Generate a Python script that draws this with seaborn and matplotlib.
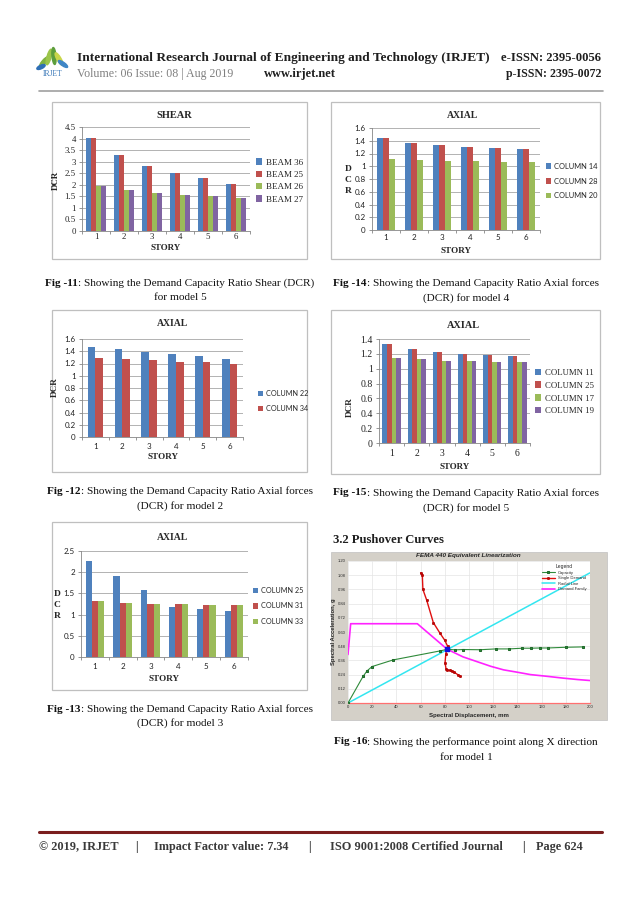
import numpy as np
import pandas as pd
import seaborn as sns
import matplotlib.pyplot as plt
from matplotlib.patches import Rectangle, Ellipse

W, H = 638, 902
SERIF = ['Liberation Serif', 'DejaVu Serif']
SANS = ['Lato', 'DejaVu Sans']
ARIAL = ['Liberation Sans', 'DejaVu Sans']

stories = [1, 2, 3, 4, 5, 6]
excel_colors = ['#4f81bd', '#c0504d', '#9bbb59', '#8064a2']

# Fig -11 shear, model 5
beam36 = [4.02, 3.30, 2.81, 2.49, 2.28, 2.04]
beam25 = [4.02, 3.30, 2.81, 2.49, 2.28, 2.04]
beam26 = [1.95, 1.78, 1.65, 1.57, 1.50, 1.43]
beam27 = [1.95, 1.78, 1.65, 1.57, 1.50, 1.43]
shear_labels = ['BEAM 36', 'BEAM 25', 'BEAM 26', 'BEAM 27']

# Fig -14 axial, model 4
col14_m4 = [1.44, 1.37, 1.33, 1.30, 1.28, 1.27]
col28_m4 = [1.44, 1.37, 1.33, 1.30, 1.28, 1.27]
col20_m4 = [1.11, 1.10, 1.09, 1.08, 1.07, 1.06]
m4_labels = ['COLUMN 14', 'COLUMN 28', 'COLUMN 20']

# Fig -12 axial, model 2
col22_m2 = [1.47, 1.43, 1.39, 1.36, 1.33, 1.28]
col34_m2 = [1.29, 1.27, 1.25, 1.23, 1.22, 1.20]
m2_labels = ['COLUMN 22', 'COLUMN 34']

# Fig -15 axial, model 5
col11_m5 = [1.33, 1.27, 1.23, 1.20, 1.18, 1.17]
col25_m5 = [1.33, 1.27, 1.23, 1.20, 1.18, 1.17]
col17_m5 = [1.15, 1.13, 1.11, 1.10, 1.09, 1.09]
col19_m5 = [1.15, 1.13, 1.11, 1.10, 1.09, 1.09]
m5_labels = ['COLUMN 11', 'COLUMN 25', 'COLUMN 17', 'COLUMN 19']

# Fig -13 axial, model 3
col25_m3 = [2.27, 1.92, 1.58, 1.19, 1.14, 1.09]
col31_m3 = [1.31, 1.28, 1.25, 1.24, 1.23, 1.23]
col33_m3 = [1.31, 1.28, 1.25, 1.24, 1.23, 1.23]
m3_labels = ['COLUMN 25', 'COLUMN 31', 'COLUMN 33']

# Fig -16 pushover (FEMA 440)
cap_sd = [0, 12.4, 15.8, 19.9, 37.3, 76, 82, 88.5, 95, 109, 122, 133, 144, 151, 159, 165, 180, 194]
cap_sa = [0, 0.224, 0.272, 0.308, 0.364, 0.44, 0.454, 0.449, 0.452, 0.45, 0.457, 0.457,
          0.463, 0.463, 0.465, 0.465, 0.471, 0.474]
dem_sd = [60, 61.4, 61.9, 65, 70.5, 76, 80, 82.3, 81.5, 80.8, 80.2, 81, 82, 84.4, 86, 88, 90.7, 92.7]
dem_sa = [1.10, 1.085, 0.96, 0.87, 0.68, 0.59, 0.53, 0.48, 0.45, 0.41, 0.34, 0.29, 0.28,
          0.275, 0.27, 0.258, 0.24, 0.224]
radial_sd = [0, 200]
radial_sa = [0, 1.10]
family_sd = [0, 2.2, 57.3, 82, 95, 106.5, 118, 128.6, 140, 150.8, 165, 178, 190, 200]
family_sa = [0.41, 0.67, 0.67, 0.454, 0.39, 0.35, 0.31, 0.28, 0.26, 0.24, 0.225, 0.21, 0.198, 0.19]
perf_sd = [82]
perf_sa = [0.454]
push_xticks = [0, 20, 40, 60, 80, 100, 120, 140, 160, 180, 200]
push_yticks = [0.0, 0.12, 0.24, 0.36, 0.48, 0.60, 0.72, 0.84, 0.96, 1.08, 1.20]

sns.set_theme(style='white')
plt.rcParams['font.family'] = SERIF

fig = plt.figure(figsize=(W / 100, H / 100), dpi=100)
fig.patch.set_facecolor('white')
renderer = fig.canvas.get_renderer()


def px_rect(x0, y0, x1, y1):
    return [x0 / W, 1 - y1 / H, (x1 - x0) / W, (y1 - y0) / H]


def fig_text(x, y, s, **kw):
    kw.setdefault('va', 'center')
    return fig.text(x / W, 1 - y / H, s, **kw)


def fit_size(s, width, **kw):
    t = fig.text(0, 0, s, fontsize=10, **kw)
    w = t.get_window_extent(renderer).width
    t.remove()
    return 10 * width / w


def panel(x0, y0, x1, y1, fc='white', ec='#bfbfbf', lw=0.9):
    fig.patches.append(Rectangle((x0 / W, 1 - y1 / H), (x1 - x0) / W, (y1 - y0) / H,
                                 transform=fig.transFigure, fc=fc, ec=ec, lw=lw, zorder=-1))


def caption(cx, y, bold, rest, size):
    t1 = fig_text(0, y, bold, fontsize=size, fontweight='bold', color='#111111')
    t2 = fig_text(0, y, rest, fontsize=size, color='#111111')
    w1 = t1.get_window_extent(renderer).width
    w2 = t2.get_window_extent(renderer).width
    x0 = cx - (w1 + w2) / 2
    t1.set_x(x0 / W)
    t2.set_x((x0 + w1) / W)


def dcr_chart(area, labels, series, yticks, width, font, fsize, lsize, legend_at, gap, pad=2):
    ax = fig.add_axes(px_rect(*area))
    ax.patch.set_alpha(0)
    df = pd.DataFrame({
        'STORY': stories * len(labels),
        'DCR': np.concatenate(series),
        'member': np.repeat(labels, len(stories)),
    })
    sns.barplot(data=df, x='STORY', y='DCR', hue='member', hue_order=labels,
                palette=excel_colors[:len(labels)], width=width, saturation=1,
                edgecolor='none', linewidth=0, ax=ax)
    ax.set_xlim(-0.5, 5.5)
    ax.set_ylim(yticks[0], yticks[-1])
    ax.set_yticks(yticks, labels=[f'{v:g}' for v in yticks])
    ax.set_xticks(range(6), labels=[str(s) for s in stories])
    ax.set_xticks(np.arange(-0.5, 6, 1), minor=True)
    for lab in ax.get_xticklabels() + ax.get_yticklabels():
        lab.set_fontfamily(font)
        lab.set_fontsize(fsize)
        lab.set_color('#222222')
    ax.tick_params(axis='x', which='major', length=0, pad=pad)
    ax.tick_params(axis='x', which='minor', length=2.5, width=0.6, color='#868686', bottom=True)
    ax.tick_params(axis='y', length=2.5, width=0.6, color='#868686', pad=2, left=True)
    ax.grid(axis='y', color='#a6a6a6', lw=0.6)
    ax.set_axisbelow(True)
    for s in ['top', 'right']:
        ax.spines[s].set_visible(False)
    for s in ['left', 'bottom']:
        ax.spines[s].set_color('#868686')
        ax.spines[s].set_linewidth(0.6)
    ax.set_xlabel('')
    ax.set_ylabel('')
    handles, _ = ax.get_legend_handles_labels()
    ax.legend(handles, labels, loc='center left',
              bbox_to_anchor=(legend_at[0] / W, 1 - legend_at[1] / H),
              bbox_transform=fig.transFigure, frameon=False,
              prop={'family': font, 'size': lsize}, handlelength=0.7, handleheight=0.7,
              handletextpad=0.4, labelspacing=gap, borderpad=0, borderaxespad=0)
    return ax


# ---------- page header ----------
logo = fig.add_axes(px_rect(36, 44, 70, 72))
logo.set_xlim(36, 70)
logo.set_ylim(72, 44)
logo.axis('off')
for (cx, cy, w, h, ang, c) in [(44, 62, 4, 13, 40, '#7fb241'), (49, 57, 4, 16, 15, '#9cc54a'),
                               (54, 56, 4, 17, -5, '#5d9e3c'), (59, 59, 4, 14, -30, '#c9d64a'),
                               (63, 64, 3.5, 11, -55, '#3f86c6'), (41, 67, 3.5, 9, 65, '#2e6fb5')]:
    logo.add_patch(Ellipse((cx, cy), w, h, angle=ang, color=c))
fig_text(53, 74, 'IRJET', ha='center', fontsize=5.5, color='#3a78b8')

title = 'International Research Journal of Engineering and Technology (IRJET)'
fig_text(77, 58, title, fontsize=fit_size(title, 415, fontweight='bold'), fontweight='bold',
         color='#1f1f1f')
fig_text(601, 58, 'e-ISSN: 2395-0056', ha='right', fontweight='bold', color='#1f1f1f',
         fontsize=fit_size('e-ISSN: 2395-0056', 100, fontweight='bold'))
fig_text(77, 74, 'Volume: 06 Issue: 08 | Aug 2019', color='#7f7f7f',
         fontsize=fit_size('Volume: 06 Issue: 08 | Aug 2019', 155))
fig_text(264, 74, 'www.irjet.net', fontweight='bold', color='#1f1f1f',
         fontsize=fit_size('www.irjet.net', 72, fontweight='bold'))
fig_text(601, 74, 'p-ISSN: 2395-0072', ha='right', fontweight='bold', color='#1f1f1f',
         fontsize=fit_size('p-ISSN: 2395-0072', 95, fontweight='bold'))
fig.add_artist(plt.Line2D([39 / W, 603 / W], [1 - 91 / H] * 2, color='#a0a0a0', lw=1.2))

# ---------- bar charts ----------
cap_size = fit_size('Fig -14: Showing the Demand Capacity Ratio Axial forces', 265)

# Fig -11
panel(52, 102, 307, 259)
dcr_chart((82, 127, 250, 231), shear_labels, [beam36, beam25, beam26, beam27],
          [0, 0.5, 1, 1.5, 2, 2.5, 3, 3.5, 4, 4.5], 0.727, SERIF, 6.3, 6.5, (256, 181), 0.45,
          pad=1.5)
fig_text(174, 115, 'SHEAR', ha='center', fontsize=7.5, fontweight='bold')
fig_text(166, 248.5, 'STORY', ha='center', fontsize=6.4, fontweight='bold')
fig_text(56, 180, 'DCR', ha='center', rotation=90, fontsize=6.4, fontweight='bold')
caption(180, 283, 'Fig -11', ': Showing the Demand Capacity Ratio Shear (DCR)', cap_size)
caption(180, 298, '', 'for model 5', cap_size)

# Fig -14
panel(331, 102, 600, 259)
dcr_chart((372, 128, 540, 230), m4_labels, [col14_m4, col28_m4, col20_m4],
          [0, 0.2, 0.4, 0.6, 0.8, 1, 1.2, 1.4, 1.6], 0.667, SANS, 5.8, 5.4, (546, 181), 1.05,
          pad=3)
fig_text(463, 115, 'AXIAL', ha='center', fontsize=7, fontweight='bold')
fig_text(456, 251, 'STORY', ha='center', fontsize=6.6, fontweight='bold')
fig_text(348, 180, 'D\nC\nR', ha='center', fontsize=6.8, fontweight='bold', linespacing=1.45)
caption(466, 283, 'Fig -14', ': Showing the Demand Capacity Ratio Axial forces', cap_size)
caption(466, 298, '', '(DCR) for model 4', cap_size)

# Fig -12
panel(52, 310, 307, 472)
dcr_chart((82, 339, 243, 437), m2_labels, [col22_m2, col34_m2],
          [0, 0.2, 0.4, 0.6, 0.8, 1, 1.2, 1.4, 1.6], 0.571, SANS, 5.8, 5.2, (258, 401), 1.2,
          pad=4)
fig_text(173, 324, 'AXIAL', ha='center', fontsize=7, fontweight='bold')
fig_text(163, 457, 'STORY', ha='center', fontsize=6.6, fontweight='bold')
fig_text(55, 387, 'DCR', ha='center', rotation=90, fontsize=6.6, fontweight='bold')
caption(180, 491, 'Fig -12', ': Showing the Demand Capacity Ratio Axial forces', cap_size)
caption(180, 506, '', '(DCR) for model 2', cap_size)

# Fig -15
panel(331, 310, 600, 474)
dcr_chart((379, 339, 530, 443), m5_labels, [col11_m5, col25_m5, col17_m5, col19_m5],
          [0, 0.2, 0.4, 0.6, 0.8, 1, 1.2, 1.4], 0.727, SERIF, 7.0, 6.3, (535, 392), 0.55,
          pad=4)
fig_text(463, 325, 'AXIAL', ha='center', fontsize=7.4, fontweight='bold')
fig_text(455, 467, 'STORY', ha='center', fontsize=6.4, fontweight='bold')
fig_text(350, 407, 'DCR', ha='center', rotation=90, fontsize=6.6, fontweight='bold')
caption(466, 493, 'Fig -15', ': Showing the Demand Capacity Ratio Axial forces', cap_size)
caption(466, 508, '', '(DCR) for model 5', cap_size)

# Fig -13
panel(52, 522, 307, 690)
dcr_chart((81, 551, 248, 657), m3_labels, [col25_m3, col31_m3, col33_m3],
          [0, 0.5, 1, 1.5, 2, 2.5], 0.667, SANS, 5.8, 5.2, (253, 606), 1.2, pad=4)
fig_text(173, 537, 'AXIAL', ha='center', fontsize=7, fontweight='bold')
fig_text(164, 679, 'STORY', ha='center', fontsize=6.6, fontweight='bold')
fig_text(57, 605, 'D\nC\nR', ha='center', fontsize=6.8, fontweight='bold', linespacing=1.45)
caption(180, 709, 'Fig -13', ': Showing the Demand Capacity Ratio Axial forces', cap_size)
caption(180, 723, '', '(DCR) for model 3', cap_size)

# ---------- pushover ----------
fig_text(333, 540, '3.2 Pushover Curves', fontweight='bold', color='#1f1f1f',
         fontsize=cap_size * 1.12)
panel(331, 552, 607, 720, fc='#d4d0c8', ec='#c0c0c0', lw=0.5)
ax = fig.add_axes(px_rect(348, 561, 590, 703))
ax.set_facecolor('white')
sns.lineplot(x=radial_sd, y=radial_sa, ax=ax, color='#33e6f0', lw=1.1, label='Radial Line',
             sort=False, estimator=None, zorder=2)
sns.lineplot(x=family_sd, y=family_sa, ax=ax, color='#ff22ff', lw=1.2, label='Demand Family',
             sort=False, estimator=None, zorder=3)
sns.lineplot(x=cap_sd, y=cap_sa, ax=ax, color='#2f8a3a', lw=0.8, marker='s', ms=1.6,
             mec='#1f6a2a', label='Capacity', sort=False, estimator=None, zorder=4)
sns.lineplot(x=dem_sd, y=dem_sa, ax=ax, color='#e01010', lw=1.0, marker='s', ms=1.2,
             mec='#b00000', label='Single Demand', sort=False, estimator=None, zorder=5)
ax.scatter(perf_sd, perf_sa, s=12, marker='s', color='#1010e0', zorder=6)
ax.set_xlim(0, 200)
ax.set_ylim(0, 1.2)
ax.set_xticks(push_xticks, labels=[str(v) for v in push_xticks])
ax.set_yticks(push_yticks, labels=[f'{v:.2f}' for v in push_yticks])
ax.tick_params(labelsize=3, pad=1.5, length=0)
for lab in ax.get_xticklabels() + ax.get_yticklabels():
    lab.set_fontfamily(ARIAL)
ax.grid(color='#e4e4e4', lw=0.5)
for s in ['top', 'right', 'left']:
    ax.spines[s].set_visible(False)
ax.spines['bottom'].set_color('#ff7070')
ax.spines['bottom'].set_linewidth(0.9)
ax.set_xlabel('')
ax.set_ylabel('')
handles, labels = ax.get_legend_handles_labels()
order = [labels.index(n) for n in ['Capacity', 'Single Demand', 'Radial Line', 'Demand Family']]
ax.legend([handles[i] for i in order], [labels[i] for i in order], title='Legend',
          loc='upper right', frameon=False, prop={'family': ARIAL, 'size': 3},
          title_fontproperties={'family': ARIAL, 'size': 3.6}, handlelength=3,
          labelspacing=0.35, borderaxespad=0.4)
fig_text(468, 555, 'FEMA 440 Equivalent Linearization', ha='center', fontsize=4.6,
         fontweight='bold', fontstyle='italic', family=ARIAL)
fig_text(469, 716, 'Spectral Displacement, mm', ha='center', fontsize=4.4, fontweight='bold',
         family=ARIAL)
fig_text(334, 632, 'Spectral Acceleration, g', ha='center', rotation=90, fontsize=4.2,
         fontweight='bold', family=ARIAL)
caption(466, 742, 'Fig -16', ': Showing the performance point along X direction', cap_size)
caption(466, 757, '', 'for model 1', cap_size)

# ---------- page footer ----------
fig.add_artist(plt.Line2D([39 / W, 602 / W], [1 - 832 / H] * 2, color='#7a1e1e', lw=2.2))
foot = fit_size('ISO 9001:2008 Certified Journal', 171, fontweight='bold')
for x, s in [(39, '\u00a9 2019, IRJET'), (135, '|'), (154, 'Impact Factor value: 7.34'),
             (308, '|'), (330, 'ISO 9001:2008 Certified Journal'), (522, '|'),
             (536, 'Page 624')]:
    fig_text(x, 847, s, fontsize=foot, fontweight='bold', color='#3a3a3a')

fig.savefig('out.png', dpi=100)
